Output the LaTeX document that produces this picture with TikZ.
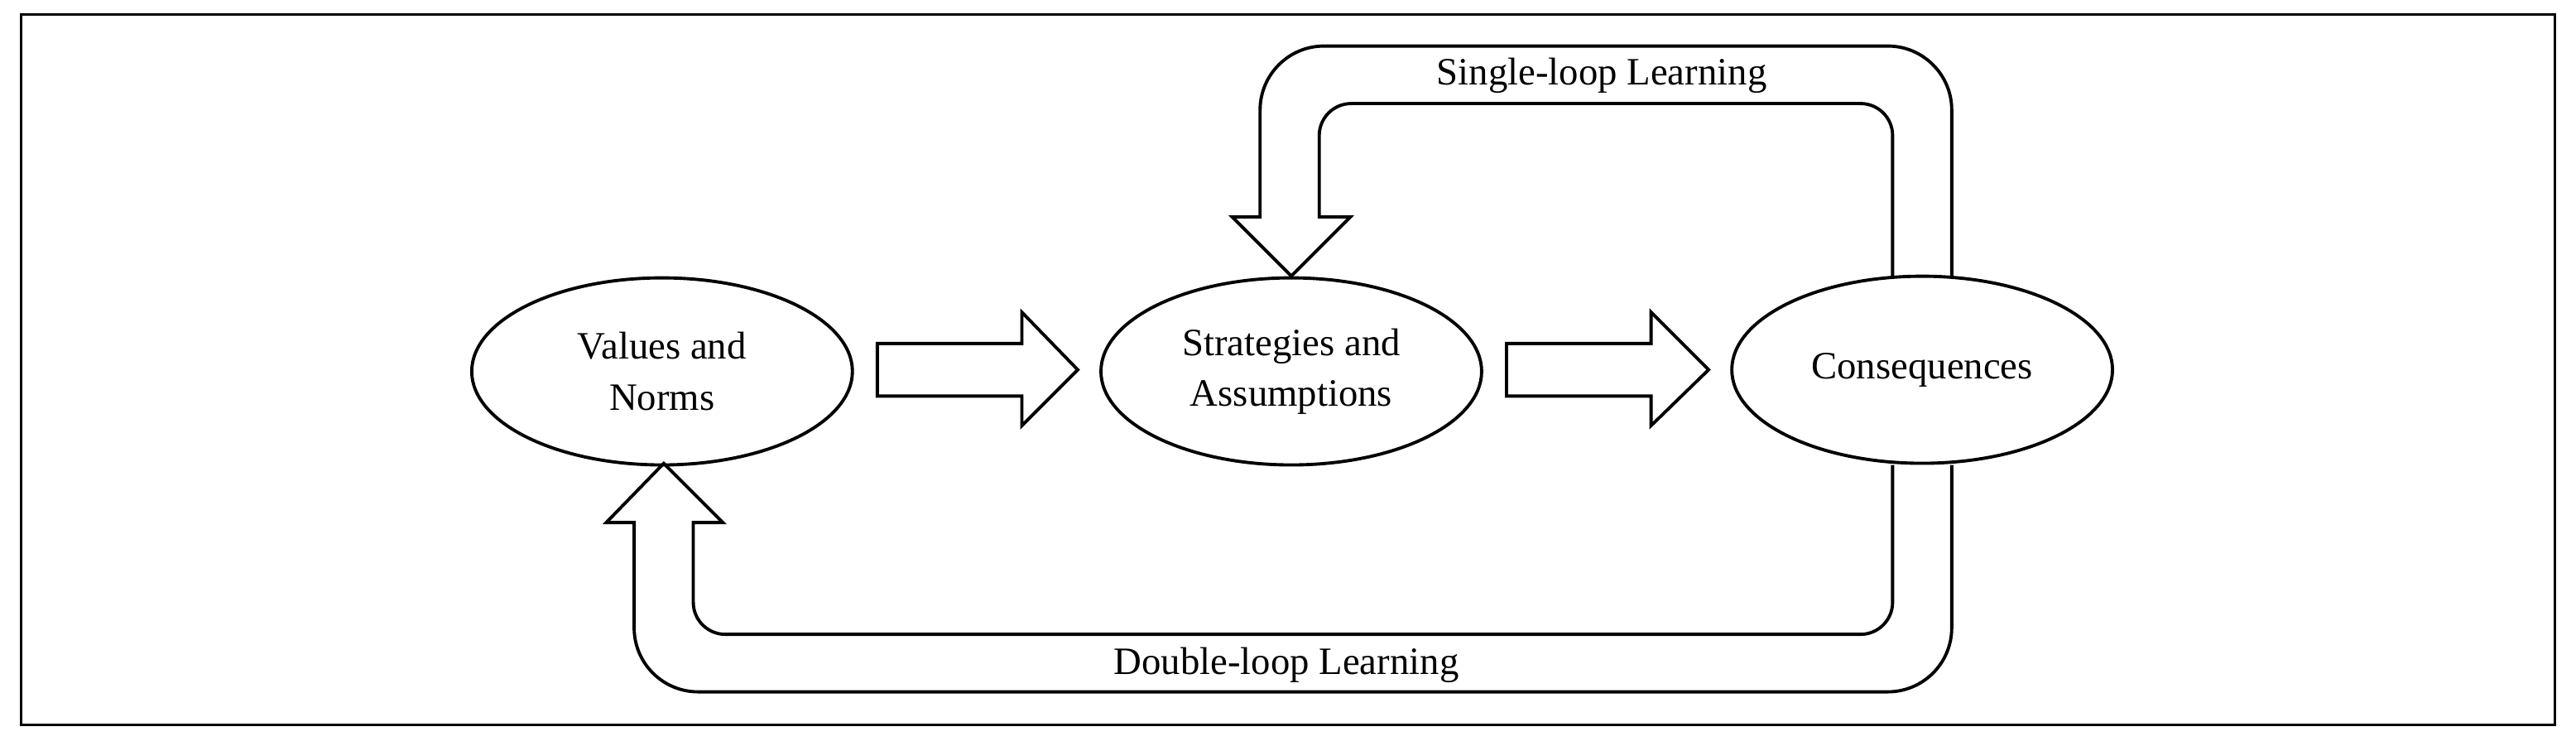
\documentclass[tikz,border=0pt]{standalone}
\usepackage{fontspec}
\setmainfont{Liberation Serif}
\usetikzlibrary{shapes.geometric}
\begin{document}
\begin{tikzpicture}[x=0.019847cm,y=-0.019847cm,line width=1.1pt,
  oval/.style={draw,ellipse,inner sep=0pt,minimum width=4.6cm,minimum height=2.26cm,align=center,font=\fontsize{13.3}{17.5}\selectfont},
  lbl/.style={font=\fontsize{13.3}{16}\selectfont},
  blk/.style={draw,line join=miter}]
\useasboundingbox (0,0) rectangle (1568,453.5);
\draw[line width=0.8pt] (13,9) rectangle (1555,441);
\node[oval] (vn) at (403,226) {Values and\\Norms};
\node[oval] (sa) at (786,226) {Strategies and\\Assumptions};
\node[oval] (co) at (1170,225) {Consequences};
% block arrows
\draw[blk] (534,209) -- (622,209) -- (622,190) -- (656,225) -- (622,259) -- (622,241) -- (534,241) -- cycle;
\draw[blk] (917,209) -- (1005,209) -- (1005,190) -- (1040,225) -- (1005,259) -- (1005,241) -- (917,241) -- cycle;
% single loop
\draw[blk] (1152,168) [rounded corners=11pt] -- (1152,63) -- (803,63) [rounded corners=0pt] -- (803,132) -- (822,132) -- (786,168) -- (750,132) -- (767,132) [rounded corners=22pt] -- (767,28) -- (1188,28) [rounded corners=0pt] -- (1188,168);
% double loop
\draw[blk] (1152,283) [rounded corners=11pt] -- (1152,386) -- (422,386) [rounded corners=0pt] -- (422,318) -- (440,318) -- (404,282) -- (369,318) -- (386,318) [rounded corners=22pt] -- (386,421) -- (1188,421) [rounded corners=0pt] -- (1188,283);
\node[lbl] (sl) at (975,46) {Single-loop Learning};
\node[lbl] (dl) at (783,405) {Double-loop Learning};
\end{tikzpicture}
\end{document}
